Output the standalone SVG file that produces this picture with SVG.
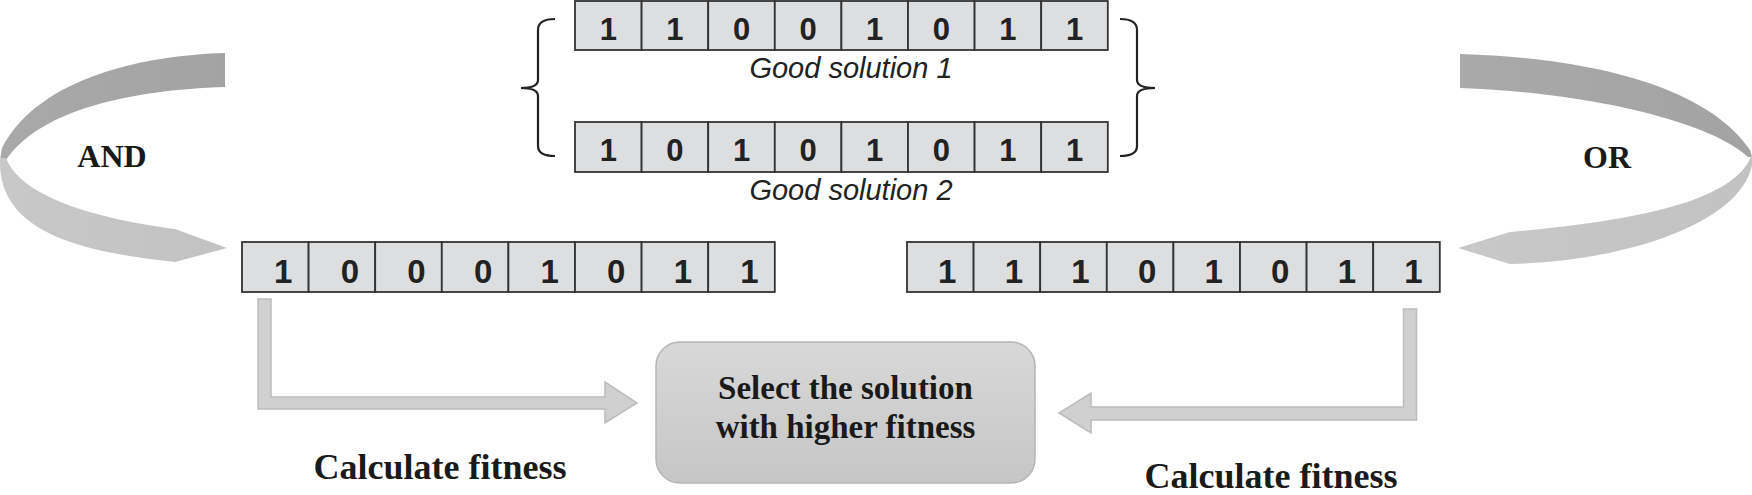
<svg xmlns="http://www.w3.org/2000/svg" width="1752" height="495" viewBox="0 0 1752 495">
<defs>
<linearGradient id="boxg" x1="0" y1="0" x2="0" y2="1">
<stop offset="0" stop-color="#d8d8d8"/>
<stop offset="1" stop-color="#c6c6c6"/>
</linearGradient>
<linearGradient id="darkband" x1="0" y1="0" x2="1" y2="0">
<stop offset="0" stop-color="#a9a9a9"/>
<stop offset="1" stop-color="#a3a3a3"/>
</linearGradient>
<linearGradient id="lightband" x1="0" y1="0" x2="1" y2="0">
<stop offset="0" stop-color="#c8c8c8"/>
<stop offset="1" stop-color="#c2c2c2"/>
</linearGradient>
</defs>
<style>
.cell{fill:#dddee0;stroke:#333;stroke-width:1.8}
.dig{font-family:"Liberation Sans",Arial,sans-serif;font-weight:bold;fill:#222;text-anchor:middle}
.top{font-size:31px}
.bot{font-size:33px}
.lab{font-family:"Liberation Sans",Arial,sans-serif;font-style:italic;font-size:29px;fill:#222;text-anchor:middle}
.ser{font-family:"Liberation Serif","Times New Roman",serif;font-weight:bold;fill:#1a1a1a;text-anchor:middle}
.brace{fill:none;stroke:#222;stroke-width:2.2}
.dark{fill:url(#darkband)}
.light{fill:url(#lightband)}
.flow{fill:#d0d0d0;stroke:#bcbcbc;stroke-width:1.5}
</style>
<rect width="1752" height="495" fill="#fff"/>

<g id="connectors">
<g id="and-arrow">
<path class="dark" d="M225,53 C150,55 40,75 2,148 L0,160 L6,160 C40,110 130,90 225,87 Z"/>
<path class="light" d="M6,158 C20,195 90,218 175,229 L227,248 L175,262 C80,252 2,232 0,165 L0,158 Z"/>
</g>
<g id="or-arrow">
<path class="dark" d="M1460,54 C1600,58 1710,90 1750,150 L1752,157 L1748,157 C1715,125 1600,93 1460,88 Z"/>
<path class="light" d="M1752,154 C1735,205 1620,222 1510,232 L1458,248 L1510,264 C1620,262 1740,225 1752,165 Z"/>
</g>
<path id="left-flow" class="flow" d="M258,299 L271,299 L271,397 L605,397 L605,382 L637,403 L605,423 L605,409 L258,409 Z"/>
<path id="right-flow" class="flow" d="M1403.5,309 L1416.5,309 L1416.5,420 L1091,420 L1091,433 L1059,413 L1091,393 L1091,407 L1403.5,407 Z"/>
</g>

<g id="brace-left"><path class="brace" d="M555,19 Q538,19 538,30 L538,80 Q538,88 521,88 Q538,88 538,96 L538,146 Q538,156 555,156"/></g>
<g id="brace-right"><path class="brace" d="M1120,19 Q1137,19 1137,30 L1137,80 Q1137,88 1155,88 Q1137,88 1137,96 L1137,146 Q1137,156 1120,156"/></g>

<g id="good-solution-1">
<rect class="cell" x="575" y="1" width="66.6" height="49"/>
<rect class="cell" x="641.6" y="1" width="66.6" height="49"/>
<rect class="cell" x="708.2" y="1" width="66.6" height="49"/>
<rect class="cell" x="774.8" y="1" width="66.6" height="49"/>
<rect class="cell" x="841.4" y="1" width="66.6" height="49"/>
<rect class="cell" x="908" y="1" width="66.6" height="49"/>
<rect class="cell" x="974.6" y="1" width="66.6" height="49"/>
<rect class="cell" x="1041.2" y="1" width="66.6" height="49"/>
<text class="dig top" y="40"><tspan x="608.3">1</tspan><tspan x="674.9">1</tspan><tspan x="741.5">0</tspan><tspan x="808.1">0</tspan><tspan x="874.7">1</tspan><tspan x="941.3">0</tspan><tspan x="1007.9">1</tspan><tspan x="1074.5">1</tspan></text>
<text class="lab" x="851" y="78">Good solution 1</text>
</g>

<g id="good-solution-2">
<rect class="cell" x="575" y="122" width="66.6" height="50"/>
<rect class="cell" x="641.6" y="122" width="66.6" height="50"/>
<rect class="cell" x="708.2" y="122" width="66.6" height="50"/>
<rect class="cell" x="774.8" y="122" width="66.6" height="50"/>
<rect class="cell" x="841.4" y="122" width="66.6" height="50"/>
<rect class="cell" x="908" y="122" width="66.6" height="50"/>
<rect class="cell" x="974.6" y="122" width="66.6" height="50"/>
<rect class="cell" x="1041.2" y="122" width="66.6" height="50"/>
<text class="dig top" y="161"><tspan x="608.3">1</tspan><tspan x="674.9">0</tspan><tspan x="741.5">1</tspan><tspan x="808.1">0</tspan><tspan x="874.7">1</tspan><tspan x="941.3">0</tspan><tspan x="1007.9">1</tspan><tspan x="1074.5">1</tspan></text>
<text class="lab" x="851" y="200">Good solution 2</text>
</g>

<g id="and-result">
<rect class="cell" x="242" y="242" width="66.6" height="50"/>
<rect class="cell" x="308.6" y="242" width="66.6" height="50"/>
<rect class="cell" x="375.2" y="242" width="66.6" height="50"/>
<rect class="cell" x="441.8" y="242" width="66.6" height="50"/>
<rect class="cell" x="508.4" y="242" width="66.6" height="50"/>
<rect class="cell" x="575" y="242" width="66.6" height="50"/>
<rect class="cell" x="641.6" y="242" width="66.6" height="50"/>
<rect class="cell" x="708.2" y="242" width="66.6" height="50"/>
<text class="dig bot" y="283"><tspan x="283.3">1</tspan><tspan x="349.9">0</tspan><tspan x="416.5">0</tspan><tspan x="483.1">0</tspan><tspan x="549.7">1</tspan><tspan x="616.3">0</tspan><tspan x="682.9">1</tspan><tspan x="749.5">1</tspan></text>
</g>

<g id="or-result">
<rect class="cell" x="907" y="242" width="66.6" height="50"/>
<rect class="cell" x="973.6" y="242" width="66.6" height="50"/>
<rect class="cell" x="1040.2" y="242" width="66.6" height="50"/>
<rect class="cell" x="1106.8" y="242" width="66.6" height="50"/>
<rect class="cell" x="1173.4" y="242" width="66.6" height="50"/>
<rect class="cell" x="1240" y="242" width="66.6" height="50"/>
<rect class="cell" x="1306.6" y="242" width="66.6" height="50"/>
<rect class="cell" x="1373.2" y="242" width="66.6" height="50"/>
<text class="dig bot" y="283"><tspan x="947.3">1</tspan><tspan x="1013.9">1</tspan><tspan x="1080.5">1</tspan><tspan x="1147.1">0</tspan><tspan x="1213.7">1</tspan><tspan x="1280.3">0</tspan><tspan x="1346.9">1</tspan><tspan x="1413.5">1</tspan></text>
</g>

<g id="select-box">
<rect x="656" y="342" width="379" height="141" rx="24" fill="url(#boxg)" stroke="#b5b5b5" stroke-width="1.5"/>
<text class="ser" font-size="33" x="845.5" y="399">Select the solution</text>
<text class="ser" font-size="33" x="845.5" y="438">with higher fitness</text>
</g>

<g id="labels">
<text class="ser" font-size="32" x="112" y="167">AND</text>
<text class="ser" font-size="32" x="1607" y="168">OR</text>
<text class="ser" font-size="36" x="440" y="479">Calculate fitness</text>
<text class="ser" font-size="36" x="1271" y="488">Calculate fitness</text>
</g>
</svg>
